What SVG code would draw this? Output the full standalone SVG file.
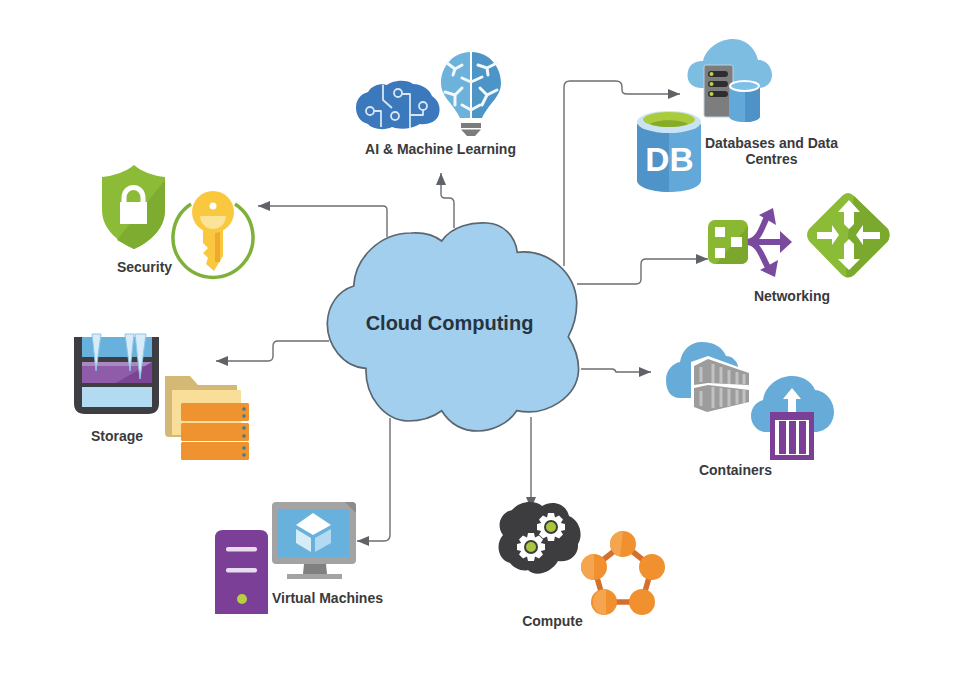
<svg xmlns="http://www.w3.org/2000/svg" width="957" height="684" viewBox="0 0 957 684">
<style>
.lbl{font-family:"Liberation Sans",Arial,sans-serif;font-weight:700;font-size:14px;fill:#3a3a3c}
.conn{fill:none;stroke:#6b6e72;stroke-width:1.4;marker-end:url(#arr)}
.wl{fill:none;stroke:#f2f8fc;stroke-width:3;stroke-linecap:round;stroke-linejoin:round}
.cl{fill:none;stroke:#d6e6f5;stroke-width:1.800;stroke-linejoin:round}
.nd{fill:#3c78bc;stroke:#d6e6f5;stroke-width:1.800}
</style>
<defs>
<marker id="arr" markerUnits="userSpaceOnUse" markerWidth="14" markerHeight="10" refX="12" refY="5" orient="auto"><path d="M0 0L12 5L0 10Z" fill="#5f6266"/></marker>
<path id="gear" d="M-3-14H3L4-9.500 8-11.500 12-7.500 9.800-4 14-3V3L9.800 4 12 7.500 8 11.500 4 9.500 3 14H-3L-4 9.500-8 11.500-12 7.500-9.800 4-14 3V-3L-9.800-4-12-7.500-8-11.500-4-9.500Z"/>
</defs>
<rect width="957" height="684" fill="#fff"/>
<g id="connectors">
<path class="conn" d="M387 237V210Q387 206 383 206H258"/>
<path class="conn" d="M454 228V203Q454 198 449 198H445Q441 198 441 194V173"/>
<path class="conn" d="M564 266V87Q564 81 570 81H616Q622 81 622 87V90Q622 94 627 94H680"/>
<path class="conn" d="M577 284H636Q641 284 641 279V264Q641 259 646 259H708"/>
<path class="conn" d="M581 369H612Q615 369 616 372H651"/>
<path class="conn" d="M531 417V509"/>
<path class="conn" d="M390 418V535Q390 541 384 541H357"/>
<path class="conn" d="M329 341H278Q273 341 273 346V356Q273 361 268 361H216"/>
</g>
<g id="cloud-computing">
<path d="M353.700 286C355 258 380 233 411 233C424 232 434 235 441.700 241C452 226 472 222 487 223C503 224 515 235 517.300 252.300C548 249 575 272 576.700 301.700C577 315 574 326 568.300 336.700C576 349 579 360 578.500 371C577 396 548 417 516.700 410.700C508 424 492 431 478 431C463 431 450 424 441.700 410.700C432 418 420 421 408 421C384 420 365 396 366 368.300C343 367 327 345 327.300 323C328 305 338 291 353.700 286Z" fill="#a3cfee" stroke="#5a6670" stroke-width="1.700"/>
<text x="449.500" y="329.500" text-anchor="middle" font-family="'Liberation Sans',Arial,sans-serif" font-weight="700" font-size="20" fill="#263442">Cloud Computing</text>
</g>
<g id="ai-machine-learning">
<path d="M356 108C356 99 361 94 368 92C372 85 381 83 387 85C393 80 407 79 413 84C422 84 430 90 432 96C438 100 441 107 439 114C437 122 428 125 420 124C412 129 400 130 392 127C384 131 372 129 368 124C360 122 356 115 356 108Z" fill="#3c78bc"/>
<path class="cl" d="M374 111H381V127M383 85V100L392 108M402 94H410V128M423 110V115H410"/>
<circle class="nd" cx="370" cy="111" r="4"/>
<circle class="nd" cx="398" cy="93" r="4"/>
<circle class="nd" cx="395" cy="116" r="4"/>
<circle class="nd" cx="423" cy="106" r="4"/>
<path d="M470 52C454 52 441 66 441 83C441 97 453 103 460 118H470Z" fill="#6cb2da"/>
<path d="M472 52C488 52 501 66 501 83C501 97 489 103 482 118H472Z" fill="#4d95c6"/>
<path class="wl" d="M447 63L455 69L453 75M455 69L462 65M462 78L471 82L482 77M497 63L487 68L488 75M487 68L478 65M445 92L455 95L462 88M455 95V105M497 90L487 95L480 88M487 95L482 105M462 105L471 110L480 105"/>
<rect x="461" y="123" width="20" height="5" fill="#7c7c7c"/>
<path d="M461 129.500H481L475 136H467Z" fill="#7c7c7c"/>
<text class="lbl" x="440.500" y="153.500" text-anchor="middle">AI &amp; Machine Learning</text>
</g>
<g id="databases">
<path d="M702 88C690 88 686 80 688 71C690 63 697 61 703 61C706 48 720 39 733 39C747 39 756 50 758 60C767 60 772 68 772 75C772 83 766 88 758 88Z" fill="#7dbde2"/>
<rect x="704" y="65" width="29" height="52" rx="2" fill="#7d7d7d" stroke="#bcd4e2" stroke-width="1"/>
<rect x="708" y="71" width="20" height="6" rx="3" fill="#2e2e30"/><rect x="708" y="81" width="20" height="6" rx="3" fill="#2e2e30"/><rect x="708" y="91" width="20" height="6" rx="3" fill="#2e2e30"/>
<circle cx="711.500" cy="74" r="2" fill="#b8d44a"/><circle cx="711.500" cy="84" r="2" fill="#b8d44a"/><circle cx="711.500" cy="94" r="2" fill="#b8d44a"/>
<path d="M729 86V116C729 124 760 124 760 116V86Z" fill="#62a8d8"/>
<path d="M745 86V122C752 122 760 120 760 116V86Z" fill="#4e92c8"/>
<ellipse cx="744.500" cy="86" rx="14.500" ry="5" fill="#7dc0e8" stroke="#fff" stroke-width="2"/>
<path d="M637 124V180C637 196 701 196 701 180V124Z" fill="#62a8d8"/>
<path d="M637 124V180C637 187 653 191.500 669 192V124Z" fill="#4e94c8"/>
<ellipse cx="669" cy="122" rx="32" ry="11" fill="#c9e3f3"/>
<ellipse cx="669" cy="119.500" rx="26" ry="7.500" fill="#aacb3a"/>
<path d="M650 124C658 119 680 119 688 124C680 128 658 128 650 124Z" fill="#84ab2c"/>
<text x="669.500" y="170.500" text-anchor="middle" font-family="'Liberation Sans',Arial,sans-serif" font-weight="700" font-size="33.500" fill="#fff">DB</text>
<text class="lbl" x="771.500" y="147.500" text-anchor="middle">Databases and Data</text>
<text class="lbl" x="771.500" y="164" text-anchor="middle">Centres</text>
</g>
<g id="networking">
<rect x="708" y="220" width="40" height="44" rx="7" fill="#8ab832"/>
<path d="M748 226V257Q748 264 741 264H716Z" fill="#7ba82c"/>
<rect x="715" y="227" width="10" height="10" fill="#fff"/><rect x="731" y="237" width="11" height="10" fill="#fff"/><rect x="715" y="248" width="10" height="10" fill="#fff"/>
<g fill="none" stroke="#7a4a9e" stroke-width="6"><path d="M748 242H782"/><path d="M748 242C760 240 762 226 768 215"/><path d="M748 242C760 244 762 258 769 269"/></g>
<g fill="#7a4a9e"><path d="M780 231L792 242L780 253Z"/><path d="M759 215L773 208L776 225Z"/><path d="M760 270L775 277L778 260Z"/></g>
<path d="M848 193Q851 193 854 196L888 229Q891 235 888 241L854 275Q848 280 842 275L809 241Q805 235 809 229L842 196Q845 193 848 193Z" fill="#8cbb38"/>
<path d="M854 196L888 229Q891 235 888 241L854 275Q850 278 846 277L848 235Z" fill="#7aa92e"/>
<path d="M849 200L860 212H854V224L849 229L844 224V212H838Z" fill="#fff"/>
<path d="M849 270L860 259H854V244L849 239L844 244V259H838Z" fill="#fff"/>
<path d="M817 232H832V225L839 235L832 245V239H817Z" fill="#fff"/>
<path d="M880 232H863V225L856 235L863 245V239H880Z" fill="#fff"/>
<text class="lbl" x="792" y="301" text-anchor="middle">Networking</text>
</g>
<g id="containers">
<path d="M680 398C670 398 666 390 666 380C666 369 674 363 680 362C682 350 690 342 702 342C714 342 722 347 726 356C732 356 737 361 738 366V398Z" fill="#67acd8"/>
<path d="M691 362L708 356L752 372V404L708 414L691 408Z" fill="#fff"/>
<path d="M694 366L708 359L749 373V385L708 383L694 385Z" fill="#9c9c9c"/>
<path d="M694 388L708 385L749 390V402L707 412L694 407Z" fill="#9c9c9c"/>
<path d="M701 367V382M713 364V383M721 367V383M729 370V384M737 372V384M744 374V384M701 391V406M713 387V408M721 388V407M729 389V406M737 390V404M744 390V403" stroke="#c2c2c2" stroke-width="3" fill="none"/>
<path d="M766 432C757 432 751 424 751 416C751 408 756 402 763 400C765 386 778 376 792 376C803 376 812 382 815 390C826 391 834 401 834 412C834 423 826 432 815 432Z" fill="#67acd8"/>
<path d="M792 388L801 399H796V412H788V399H783Z" fill="#fff"/>
<rect x="770" y="412" width="44" height="48" fill="#7b3f98"/>
<rect x="775" y="420" width="34" height="35" fill="#fff"/>
<rect x="779" y="421" width="7" height="33" fill="#7b3f98"/><rect x="789" y="421" width="7" height="33" fill="#7b3f98"/><rect x="799" y="421" width="7" height="33" fill="#7b3f98"/>
<text class="lbl" x="735.500" y="475" text-anchor="middle">Containers</text>
</g>
<g id="compute">
<path d="M510 563C498 560 495 544 503 535C496 526 500 513 512 510C520 500 536 500 542 506C552 500 566 503 569 516C579 520 584 534 578 544C579 556 568 563 558 561C552 572 536 578 528 570C522 572 514 568 510 563Z" fill="#3d3d3f"/>
<use href="#gear" x="551" y="527" fill="#fff"/>
<use href="#gear" x="531" y="547" fill="#fff"/>
<circle cx="551" cy="527" r="6" fill="#a9c63c" stroke="#3d3d3f" stroke-width="2"/>
<circle cx="531" cy="547" r="6" fill="#a9c63c" stroke="#3d3d3f" stroke-width="2"/>
<path d="M623 544L652 567L642 602H604L594 567Z" fill="none" stroke="#d4702c" stroke-width="5.500"/>
<g fill="#f0902e"><circle cx="623" cy="544" r="13"/><circle cx="652" cy="567" r="13"/><circle cx="642" cy="602" r="13"/><circle cx="604" cy="602" r="13"/><circle cx="594" cy="567" r="13"/></g>
<g fill="#f4a54e"><path d="M623 531A13 13 0 0 0 620 556.600Z"/><path d="M594 554A13 13 0 0 0 594 580Z"/><path d="M606 589A13 13 0 0 0 606 615Z"/></g>
<text class="lbl" x="552.500" y="625.500" text-anchor="middle">Compute</text>
</g>
<g id="virtual-machines">
<rect x="272" y="502" width="84" height="62" rx="4" fill="#a3a3a3"/>
<path d="M345 502H352Q356 502 356 506V513Z" fill="#8c8c8c"/>
<rect x="278" y="509" width="71" height="48" fill="#68b1dc"/>
<path d="M304 564H326L327 574H303Z" fill="#808080"/>
<rect x="287" y="574" width="55" height="5" fill="#a3a3a3"/>
<path d="M313 513L331 525L313 535L296 525Z" fill="#fff"/>
<path d="M296 529L311 538V552L296 543Z" fill="#d6ecf8"/>
<path d="M331 529L315 538V552L331 543Z" fill="#b2daf2"/>
<path d="M215 538Q215 530 223 530H260Q268 530 268 538V614H215Z" fill="#7b3f98"/>
<rect x="226" y="547" width="31" height="4.500" rx="2" fill="#eadcef"/>
<rect x="226" y="568" width="31" height="4.500" rx="2" fill="#eadcef"/>
<circle cx="242" cy="599" r="5" fill="#b4cf42"/>
<text class="lbl" x="327.500" y="603" text-anchor="middle">Virtual Machines</text>
</g>
<g id="storage">
<path d="M74 337H159V403Q159 414 148 414H85Q74 414 74 403Z" fill="#3e3e42"/>
<rect x="82" y="337" width="70" height="20" fill="#68b1dc"/>
<rect x="82" y="362" width="70" height="21" fill="#8e5ca8"/>
<rect x="82" y="362" width="70" height="4" fill="#a98ac0"/>
<path d="M116 383L152 362V383Z" fill="#7b4596"/>
<rect x="82" y="387" width="70" height="20" fill="#b2daf0"/>
<path d="M92 334H101L96 371Z" fill="#d6ecf8" stroke="#8fc4e4"/>
<path d="M125 334H134L130 371Z" fill="#d6ecf8" stroke="#8fc4e4"/>
<path d="M135 334H146L140 379Z" fill="#d6ecf8" stroke="#8fc4e4"/>
<path d="M165 376H190L198 385H237V437H169Q165 437 165 433Z" fill="#d4b876"/>
<rect x="172" y="390" width="69" height="45" fill="#f8de98"/>
<rect x="181" y="403" width="68" height="18" rx="1.500" fill="#ef9230"/>
<rect x="181" y="423" width="68" height="18" rx="1.500" fill="#ef9230"/>
<rect x="181" y="442" width="68" height="18" rx="1.500" fill="#ef9230"/>
<g fill="#3f7d90"><circle cx="244" cy="409" r="1.800"/><circle cx="244" cy="416" r="1.800"/><circle cx="244" cy="428" r="1.800"/><circle cx="244" cy="436" r="1.800"/><circle cx="244" cy="448" r="1.800"/><circle cx="244" cy="455" r="1.800"/></g>
<text class="lbl" x="117" y="441" text-anchor="middle">Storage</text>
</g>
<g id="security">
<path d="M134 165C142 172 154 176 165 177V210C165 230 148 243 134 249C120 243 102 230 102 210V177C113 176 126 172 134 165Z" fill="#8cbb38"/>
<path d="M165 177V210C165 230 148 243 134 249L117 240L165 180Z" fill="#7eac30"/>
<rect x="120" y="202" width="27" height="22" fill="#fff"/>
<path d="M124 203V198C124 184 143 184 143 198V203" fill="none" stroke="#fff" stroke-width="5"/>
<path d="M191 204A40 40 0 1 0 235 204" fill="none" stroke="#7eb13a" stroke-width="3.500"/>
<path d="M203 228H223V256L214 271L206 264L208 258L203 253L208 248L203 243Z" fill="#f9c83e"/>
<rect x="215" y="232" width="5" height="30" fill="#f0a92c"/>
<circle cx="213" cy="212" r="21" fill="#f9c83e"/>
<path d="M200 216H226C225 226 218 229 213 229C208 229 201 226 200 216Z" fill="#fbe39a"/>
<circle cx="213" cy="206" r="3.500" fill="#fff"/>
<text class="lbl" x="144.500" y="272" text-anchor="middle">Security</text>
</g>
</svg>
